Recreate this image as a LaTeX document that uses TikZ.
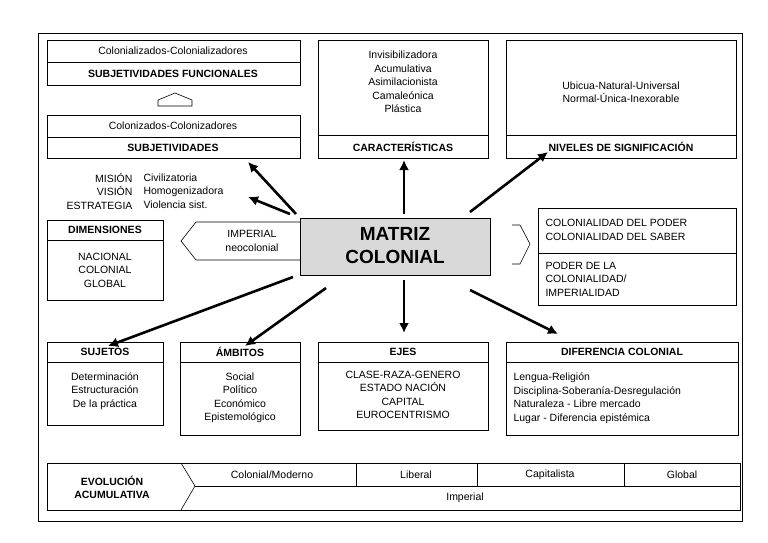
\documentclass[tikz,border=0pt]{standalone}
\usepackage{fontspec}
\setmainfont{Liberation Sans}
\usetikzlibrary{arrows.meta}
\begin{document}
\begin{tikzpicture}[x=1pt,y=-1pt,
  bx/.style={draw,line width=0.8pt},
  t/.style={font=\fontsize{10.5}{13.5}\selectfont,align=center},
  b/.style={font=\bfseries\fontsize{10.5}{13}\selectfont,align=center},
  arr/.style={line width=2.6pt,-{Latex[length=10pt,width=10pt]}}]
\useasboundingbox (0,0) rectangle (768,543);
\draw[bx] (38,33) rectangle (742,521);
% top-left boxes
\draw[bx] (47,40) rectangle (300,85); \draw[bx] (47,62)--(300,62);
\node[t] (a1) at (173,51) {Colonializados-Colonializadores};
\node[b] (a2) at (173,74) {SUBJETIVIDADES FUNCIONALES};
\draw[line width=0.6pt] (158,106)--(158,100)--(175,93)--(192,100)--(192,106)--cycle;
\draw[bx] (47,115) rectangle (300,158); \draw[bx] (47,137)--(300,137);
\node[t] (b1) at (173,126) {Colonizados-Colonizadores};
\node[b] (b2) at (173,148) {SUBJETIVIDADES};
% caracteristicas
\draw[bx] (318,40) rectangle (488,158); \draw[bx] (318,135)--(488,135);
\node[t] (c1) at (403,82) {Invisibilizadora\\Acumulativa\\Asimilacionista\\Camaleónica\\Plástica};
\node[b] (c2) at (403,147) {CARACTERÍSTICAS};
% niveles
\draw[bx] (506,40) rectangle (736,158); \draw[bx] (506,135)--(736,135);
\node[t] (d1) at (621,92) {Ubicua-Natural-Universal\\Normal-Única-Inexorable};
\node[b] (d2) at (621,147) {NIVELES DE SIGNIFICACIÓN};
% mision
\node[t,align=right,anchor=east] (m1) at (136,191) {MISIÓN\\VISIÓN\\ESTRATEGIA};
\node[t,align=left,anchor=west] (m2) at (140,191) {Civilizatoria\\Homogenizadora\\Violencia sist.};
% dimensiones
\draw[bx] (47,220) rectangle (163,300); \draw[bx] (47,240)--(163,240);
\node[b] (e1) at (105,230) {DIMENSIONES};
\node[t] (e2) at (105,270) {NACIONAL\\COLONIAL\\GLOBAL};
% imperial arrow shape
\draw[line width=0.6pt] (300,222)--(196,222)--(181,241)--(196,260)--(300,260);
\node[t] (imp) at (252,241) {IMPERIAL\\neocolonial};
% matriz
\draw[bx,fill=gray!30] (300,218) rectangle (490,275);
\node[font=\bfseries\fontsize{19}{23}\selectfont,align=center] (mat) at (395,246) {MATRIZ\\COLONIAL};
% right chevron and box
\draw[line width=0.6pt] (512,225)--(520,225)--(530,244)--(520,264)--(512,264);
\draw[bx] (538,208) rectangle (736,305); \draw[bx] (538,253)--(736,253);
\node[t,align=left,anchor=west] (r1) at (542,230) {COLONIALIDAD DEL PODER\\COLONIALIDAD DEL SABER};
\node[t,align=left,anchor=west] (r2) at (542,279) {PODER DE LA\\COLONIALIDAD/\\IMPERIALIDAD};
% bottom boxes
\draw[bx] (47,342) rectangle (163,425); \draw[bx] (47,362)--(163,362);
\node[b] (s1) at (105,352) {SUJETOS};
\node[t] (s2) at (105,391) {Determinación\\Estructuración\\De la práctica};
\draw[bx] (180,342) rectangle (300,435); \draw[bx] (180,362)--(300,362);
\node[b] (s3) at (240,352) {ÁMBITOS};
\node[t] (s4) at (240,398) {Social\\Político\\Económico\\Epistemológico};
\draw[bx] (318,342) rectangle (488,430); \draw[bx] (318,362)--(488,362);
\node[b] (s5) at (403,352) {EJES};
\node[t] (s6) at (403,395) {CLASE-RAZA-GENERO\\ESTADO NACIÓN\\CAPITAL\\EUROCENTRISMO};
\draw[bx] (506,342) rectangle (738,435); \draw[bx] (506,362)--(738,362);
\node[b] (s7) at (622,352) {DIFERENCIA COLONIAL};
\node[t,align=left,anchor=west] (s8) at (510,398) {Lengua-Religión\\Disciplina-Soberanía-Desregulación\\Naturaleza - Libre mercado\\Lugar - Diferencia epistémica};
% evolucion
\draw[bx] (47,463) rectangle (740,510);
\draw[line width=0.6pt] (181,463)--(195,486)--(181,510);
\draw[line width=0.6pt] (195,486)--(740,486);
\draw[line width=0.6pt] (356,463)--(356,486) (477,463)--(477,486) (624,463)--(624,486);
\node[b] (v0) at (112,487) {EVOLUCIÓN\\ACUMULATIVA};
\node[t] (v1) at (272,475) {Colonial/Moderno};
\node[t] (v2) at (416,475) {Liberal};
\node[t] (v3) at (550,475) {Capitalista};
\node[t] (v4) at (682,475) {Global};
\node[t] (v5) at (465,498) {Imperial};
% arrows
\coordinate (p1) at (296,214); \coordinate (q1) at (248,162);
\coordinate (p2) at (290,214); \coordinate (q2) at (248,197);
\coordinate (p3) at (404,214); \coordinate (q3) at (404,160);
\coordinate (p4) at (470,212); \coordinate (q4) at (548,152);
\coordinate (p5) at (293,277); \coordinate (q5) at (108,346);
\coordinate (p6) at (326,288); \coordinate (q6) at (245,346);
\coordinate (p7) at (404,280); \coordinate (q7) at (404,333);
\coordinate (p8) at (470,290); \coordinate (q8) at (558,334);
\foreach \i in {1,...,8} \draw[arr] (p\i) -- (q\i);
\end{tikzpicture}
\end{document}
